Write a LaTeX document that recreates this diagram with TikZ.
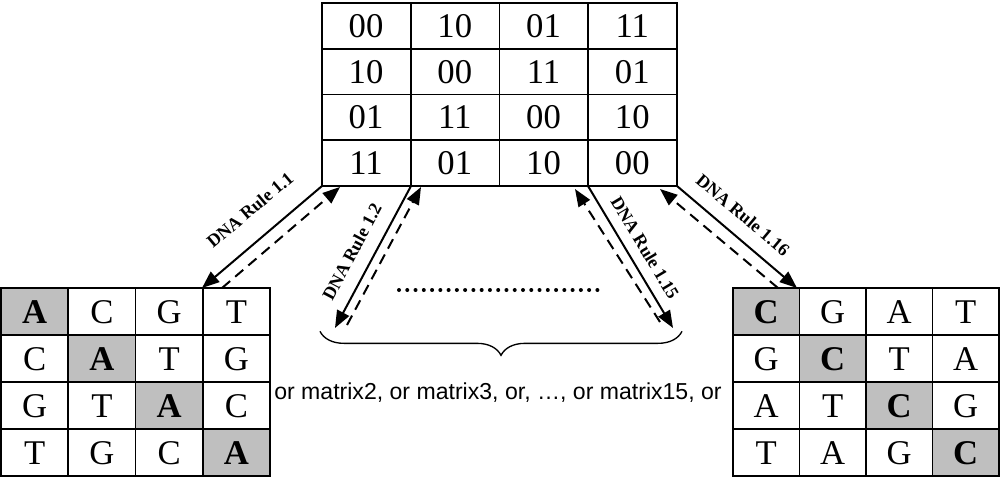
\documentclass[tikz,border=0pt]{standalone}
\usepackage{fontspec}
\setmainfont{Liberation Serif}
\newfontfamily\arialf{Liberation Sans}
\usetikzlibrary{arrows.meta,decorations.pathreplacing}
\begin{document}
\begin{tikzpicture}[x=0.75pt,y=-0.75pt,
  sol/.style={line width=1.5pt,-{Triangle[length=13pt,width=10pt]}},
  das/.style={line width=1.5pt,dash pattern=on 8pt off 5pt,-{Triangle[length=13pt,width=10pt]}},
  lab/.style={font=\bfseries\fontsize{13.5}{13.5}\selectfont}]
\useasboundingbox (0,0) rectangle (1000,476);
\def\cf{\fontsize{26}{26}\selectfont}
% top matrix
\foreach \r/\row in {0/{00,10,01,11},1/{10,00,11,01},2/{01,11,00,10},3/{11,01,10,00}}{
  \foreach \v [count=\c from 0] in \row {
    \draw[line width=1.3pt] ({322+88.75*\c},{3+45.75*\r}) rectangle ({322+88.75*(\c+1)},{3+45.75*(\r+1)});
    \node[font=\cf] at ({322+88.75*\c+44},{3+45.75*\r+23}) {\v};
  }}
\coordinate (T11) at (322,186); \coordinate (T12) at (411,186);
\coordinate (T15) at (588,186); \coordinate (T16) at (677,186);
% left matrix
\foreach \r/\row in {0/{A,C,G,T},1/{C,A,T,G},2/{G,T,A,C},3/{T,G,C,A}}{
  \foreach \v [count=\c from 0] in \row {
    \ifnum\c=\r
      \filldraw[fill=gray!50,line width=1.3pt] ({1+67.25*\c},{288+47*\r}) rectangle ({1+67.25*(\c+1)},{288+47*(\r+1)});
      \node[font=\bfseries\cf] at ({1+67.25*\c+33.6},{288+47*\r+24}) {\v};
    \else
      \draw[line width=1.3pt] ({1+67.25*\c},{288+47*\r}) rectangle ({1+67.25*(\c+1)},{288+47*(\r+1)});
      \node[font=\cf] at ({1+67.25*\c+33.6},{288+47*\r+24}) {\v};
    \fi
  }}
% right matrix
\foreach \r/\row in {0/{C,G,A,T},1/{G,C,T,A},2/{A,T,C,G},3/{T,A,G,C}}{
  \foreach \v [count=\c from 0] in \row {
    \ifnum\c=\r
      \filldraw[fill=gray!50,line width=1.3pt] ({733+66.5*\c},{288+47*\r}) rectangle ({733+66.5*(\c+1)},{288+47*(\r+1)});
      \node[font=\bfseries\cf] at ({733+66.5*\c+33.2},{288+47*\r+24}) {\v};
    \else
      \draw[line width=1.3pt] ({733+66.5*\c},{288+47*\r}) rectangle ({733+66.5*(\c+1)},{288+47*(\r+1)});
      \node[font=\cf] at ({733+66.5*\c+33.2},{288+47*\r+24}) {\v};
    \fi
  }}
\coordinate (L1) at (202,288); \coordinate (L1d) at (222,288);
\coordinate (R1) at (797,288); \coordinate (R1d) at (778,288);
\coordinate (B2) at (335,328); \coordinate (B2d) at (347,325);
\coordinate (B15) at (673,328); \coordinate (B15d) at (660,322);
\coordinate (T11d) at (340,187); \coordinate (T12d) at (421,187);
\coordinate (T15d) at (575,189); \coordinate (T16d) at (660,189);
% arrows
\draw[sol] (T11) -- (L1);
\draw[das] (L1d) -- (T11d);
\draw[sol] (T12) -- (B2);
\draw[das] (B2d) -- (T12d);
\draw[sol] (T15) -- (B15);
\draw[das] (B15d) -- (T15d);
\draw[sol] (T16) -- (R1);
\draw[das] (R1d) -- (T16d);
\node[lab,rotate=40] at (250,210) {DNA Rule 1.1};
\node[lab,rotate=62] at (352,252) {DNA Rule 1.2};
\node[lab,rotate=-59] at (645,248) {DNA Rule 1.15};
\node[lab,rotate=-40] at (743,215) {DNA Rule 1.16};
% dots
\draw[line width=3pt,dash pattern=on 0pt off 6.2pt,line cap=round] (399,290) -- (605,290);
% brace
\coordinate (BL) at (320,326); \coordinate (BR) at (682,326);
\draw[line width=1pt,decorate,decoration={brace,mirror,amplitude=18pt,raise=4pt}] (BL) -- (BR);
\node[font=\arialf\fontsize{17.3}{17.3}\selectfont] at (498,393) {or matrix2, or matrix3, or, \dots, or matrix15, or};
\end{tikzpicture}
\end{document}
